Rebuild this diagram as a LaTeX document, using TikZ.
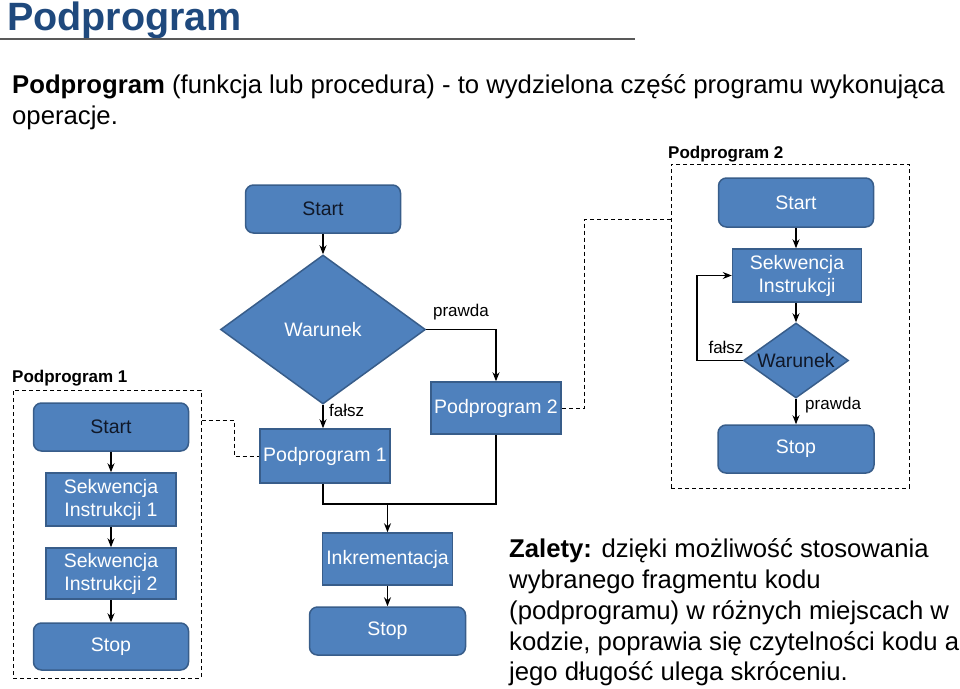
\documentclass[tikz,border=0pt]{standalone}
\usepackage{fontspec}
\setmainfont{Liberation Sans}
\usetikzlibrary{shapes.geometric,arrows.meta}
\definecolor{boxfill}{HTML}{4F81BD}
\definecolor{boxline}{HTML}{385D8A}
\definecolor{titleblue}{HTML}{1F497D}
\definecolor{darktext}{HTML}{101828}
\newcommand{\fs}[2]{\fontsize{#1}{#2}\selectfont}
\tikzset{
  procbox/.style={rectangle, fill=boxfill, draw=boxline, line width=1.5pt, text=white,
    align=center, inner sep=0pt, font=\fs{19.5}{23}},
  termbox/.style={procbox, rounded corners=8pt},
  decbox/.style={diamond, fill=boxfill, draw=boxline, line width=1.5pt, text=white,
    inner sep=0pt, font=\fs{19.5}{23}},
  arr/.style={-{Stealth[length=9pt,width=7pt]}, line width=1.1pt, black},
  ln/.style={line width=1.1pt, black},
  dsh/.style={dashed, dash pattern=on 4pt off 3pt, line width=1pt, black},
  dbox/.style={draw, dashed, dash pattern=on 4pt off 3pt, line width=1pt, black, inner sep=0pt},
  lbl/.style={font=\fs{17}{20}, inner sep=0pt, text=black},
  blbl/.style={font=\bfseries\fs{17}{20}, inner sep=0pt, text=black},
  body/.style={anchor=base west, inner sep=0pt, font=\fs{25.7}{31}, text=black},
}
\begin{document}
\begin{tikzpicture}[x=1pt,y=-1pt]
\useasboundingbox (0,0) rectangle (960,688);
% title
\node[anchor=base west, inner sep=0pt, text=titleblue, font=\bfseries\fs{39.5}{44}] (title) at (7,30) {Podprogram};
\draw[line width=2pt, color=black!65] (0,39) -- (635,39);
\node[body] (intro1) at (12,93) {\textbf{Podprogram} (funkcja lub procedura) - to wydzielona część programu wykonująca};
\node[body] (intro2) at (12,124) {operacje.};

% box 1
\node[blbl, anchor=base west] (l1) at (12,382) {Podprogram 1};
\node[dbox, minimum width=188pt, minimum height=288pt] (B1) at (107,534) {};
\node[termbox, text=darktext, minimum width=155pt, minimum height=48pt] (S1) at (111,427) {Start};
\node[procbox, minimum width=130pt, minimum height=53pt] (Q1) at (111,499.5) {Sekwencja\\Instrukcji 1};
\node[procbox, minimum width=130pt, minimum height=51pt] (Q2) at (111,573.5) {Sekwencja\\Instrukcji 2};
\node[termbox, minimum width=155pt, minimum height=47pt] (E1) at (111,646.5) {Stop};
\draw[arr] (S1) -- (Q1);
\draw[arr] (Q1) -- (Q2);
\draw[arr] (Q2) -- (E1);

% main
\node[termbox, text=darktext, minimum width=155pt, minimum height=48pt] (MS) at (323,209) {Start};
\node[decbox, minimum width=205pt, minimum height=149pt] (MD) at (323,329.5) {\makebox[0pt]{Warunek}};
\node[procbox, minimum width=130pt, minimum height=54pt] (P1) at (325,456) {Podprogram 1};
\node[procbox, minimum width=130pt, minimum height=52pt] (P2) at (496,408) {Podprogram 2};
\node[procbox, minimum width=130pt, minimum height=52pt] (INK) at (387.5,559) {Inkrementacja};
\node[termbox, minimum width=156pt, minimum height=48pt] (ME) at (387.5,631) {Stop};
\coordinate (mj) at (387.5,504);
\draw[arr] (MS) -- (MD);
\draw[arr] (MD.east) -| (P2.north);
\node[lbl] (tp1) at (461,312) {prawda};
\draw[arr] (MD.south) -- (MD.south |- P1.north);
\node[lbl, anchor=west] (tf1) at (329,410) {fałsz};
\draw[ln] (MD.south |- P1.south) |- (mj);
\draw[ln] (P2.south) |- (mj);
\draw[arr] (mj) -- (INK.north);
\draw[arr] (INK) -- (ME);

% box 2
\node[blbl, anchor=base west] (l2) at (668,158) {Podprogram 2};
\node[dbox, minimum width=238pt, minimum height=324pt] (B2) at (790,326) {};
\node[termbox, minimum width=155pt, minimum height=49pt] (S2) at (796,202.5) {Start};
\node[procbox, minimum width=129pt, minimum height=53pt] (SQ) at (797,275.5) {Sekwencja\\Instrukcji};
\node[decbox, text=darktext, minimum width=105pt, minimum height=75pt] (D2) at (796,360.5) {\makebox[0pt]{Warunek}};
\node[termbox, minimum width=156pt, minimum height=48pt] (E2) at (796,449) {Stop};
\draw[arr] (S2.south -| D2) -- (SQ.north -| D2);
\draw[arr] (SQ.south -| D2) -- (D2.north);
\draw[arr] (D2.south) -- (E2.north -| D2);
\node[lbl, anchor=west] (tp2) at (805,405) {prawda};
\draw[arr] (D2.west) -- (697,360.5) |- (SQ.west);
\node[lbl] (tf2) at (726,347) {fałsz};

% dashed connectors
\draw[dsh] (B1.east |- 0,420) -- (234,420) |- (P1.west);
\draw[dsh] (B2.west |- 0,219) -- (584,219) |- (P2.east);

% advantages
\node[body] (z1) at (509,557) {\textbf{Zalety:} dzięki możliwość stosowania};
\node[body] (z2) at (509,588) {wybranego fragmentu kodu};
\node[body] (z3) at (509,619) {(podprogramu) w różnych miejscach w};
\node[body] (z4) at (509,650) {kodzie, poprawia się czytelności kodu a};
\node[body] (z5) at (509,680) {jego długość ulega skróceniu.};
\end{tikzpicture}
\end{document}
